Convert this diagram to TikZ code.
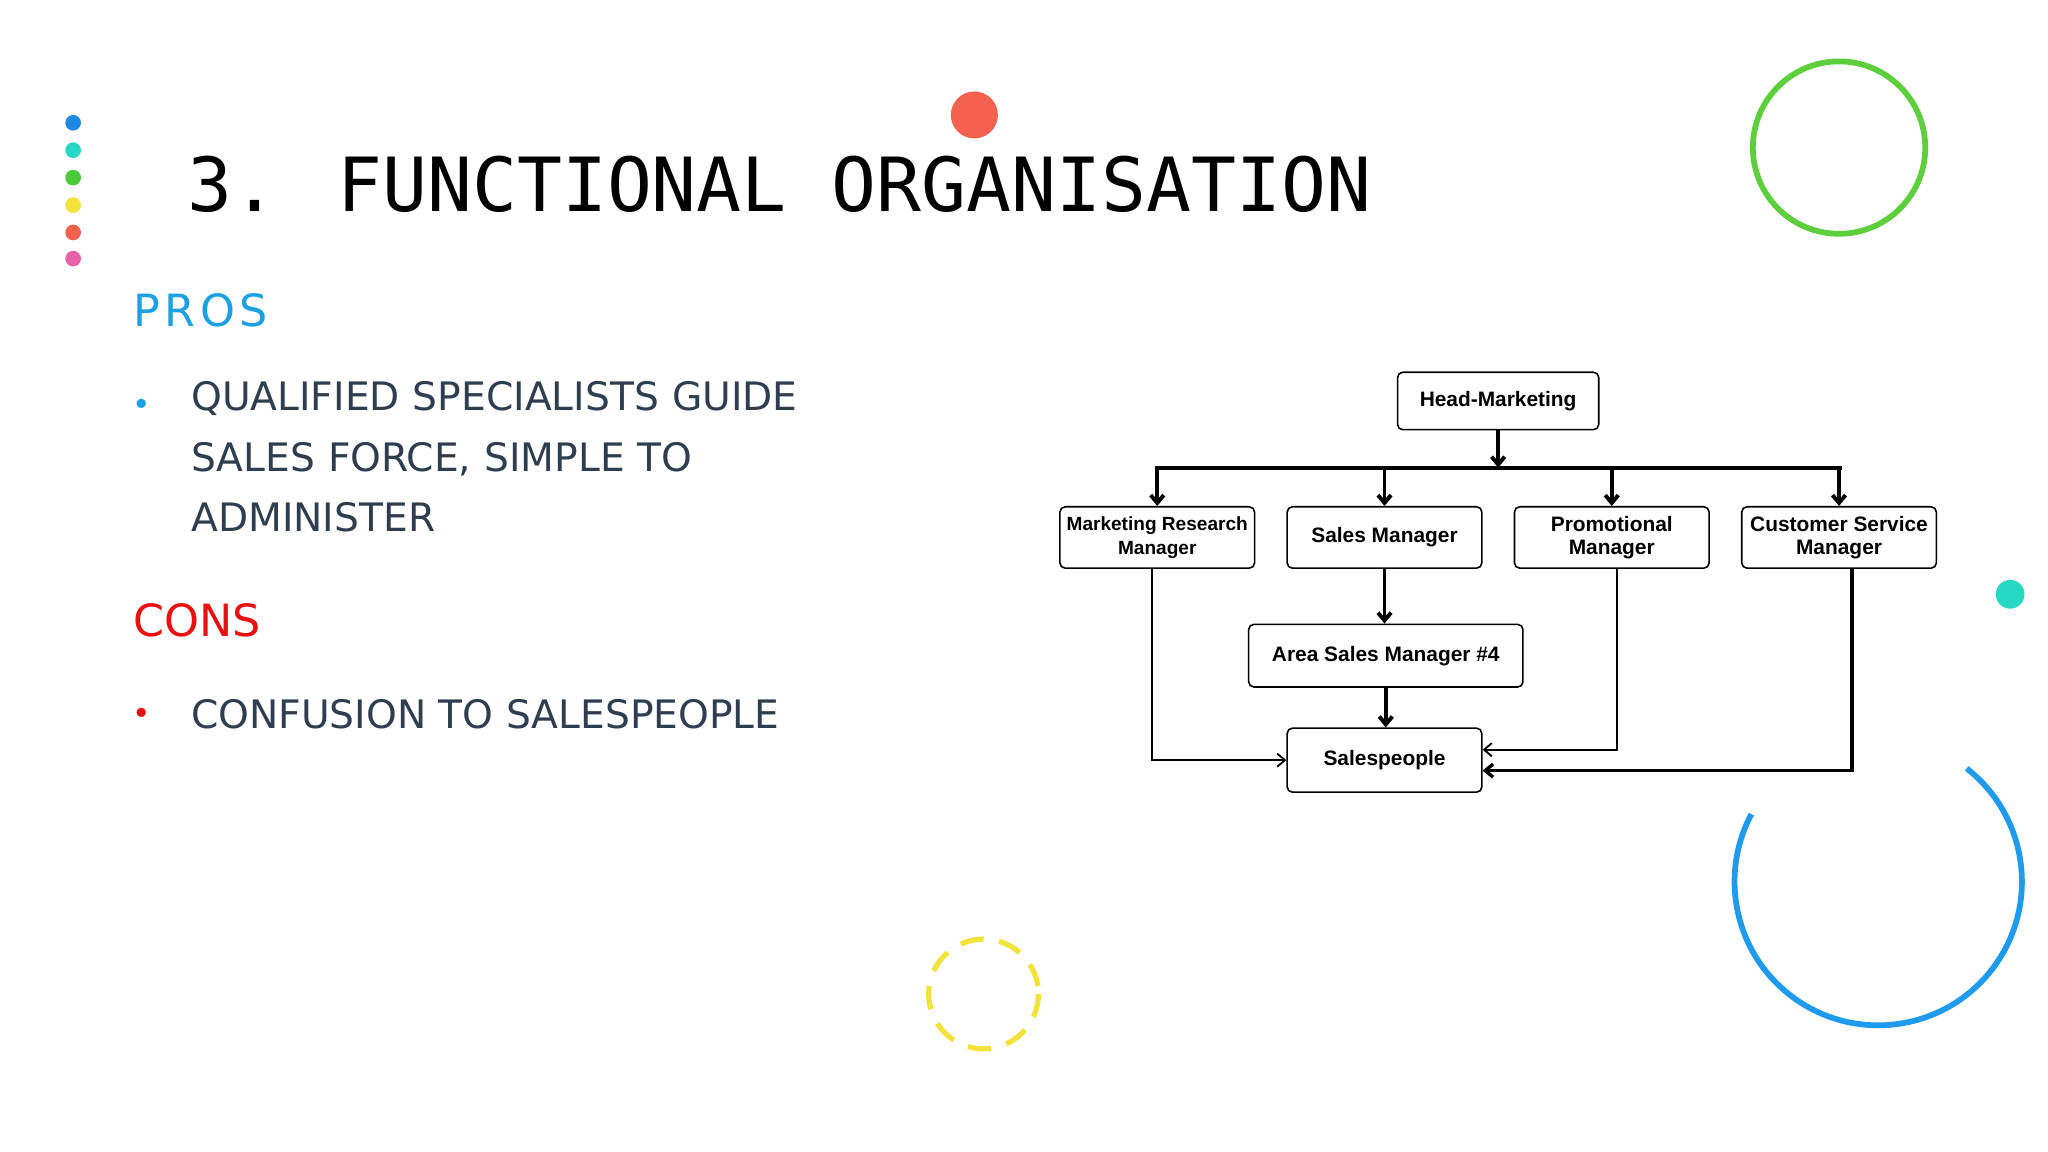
\documentclass[tikz,border=0pt]{standalone}
\usepackage{fontspec}
\setmainfont{DejaVu Sans}
\newfontfamily\monof{DejaVu Sans Mono}
\newfontfamily\arialf{Liberation Sans}
\usetikzlibrary{arrows.meta}
\definecolor{txt}{HTML}{2E3E50}
\definecolor{prosc}{HTML}{1BA1E2}
\definecolor{consc}{HTML}{E81010}
\definecolor{d1}{HTML}{1E88E5}
\definecolor{d2}{HTML}{26D7C4}
\definecolor{d3}{HTML}{4CCB3A}
\definecolor{d4}{HTML}{F2E23A}
\definecolor{d5}{HTML}{F4614F}
\definecolor{d6}{HTML}{E862A8}
\definecolor{greenc}{HTML}{5ECF3C}
\definecolor{bluec}{HTML}{1E9BEF}
\tikzset{
 box/.style={draw,rounded corners=2pt,line width=0.6pt,align=center,font=\arialf\bfseries\fontsize{8}{9}\selectfont,inner sep=0pt},
 thin/.style={line width=0.7pt,-{Straight Barb[length=3pt,width=5pt]}},
 thick/.style={line width=1.5pt,-{Straight Barb[length=3pt,width=5pt]}},
}
\begin{document}
\begin{tikzpicture}[x=0.5pt,y=-0.5pt]
\useasboundingbox (0,0) rectangle (1568,882);
\fill[white] (0,0) rectangle (1568,882);
% dots
\foreach \y/\c in {94/d1,115/d2,136/d3,157/d4,178/d5,198/d6}
  \fill[\c] (56,\y) circle (6);
\fill[d5] (746,88) circle (18);
\draw[line width=2.2pt,greenc] (1408,113) circle (66);
\fill[d2] (1539,455) circle (11);
\draw[line width=2.2pt,bluec] (1438,675) ++(-52:110) arc[start angle=-52,end angle=208,radius=110];
\draw[line width=2pt,d4,dash pattern=on 9pt off 6pt] (753,761) circle (42);
% title
\node[anchor=base west,inner sep=0pt,font=\monof\fontsize{28.6}{32}\selectfont] (title) at (143,162) {3. FUNCTIONAL ORGANISATION};
\node[anchor=base west,inner sep=0pt,text=prosc,font=\addfontfeature{LetterSpace=10}\fontsize{17}{20}\selectfont] (pros) at (102,250) {PROS};
\node[anchor=base west,inner sep=0pt,text=prosc] (b1) at (101,318) {\fontsize{12}{16}\selectfont•};
\node[anchor=north west,inner sep=0pt,text=txt,text width=265pt,align=left,font=\fontsize{15}{23}\selectfont] (t1) at (146,292) {\makebox[265pt][s]{QUALIFIED SPECIALISTS GUIDE}\\\makebox[265pt][s]{SALES FORCE, SIMPLE TO}\\ADMINISTER};
\node[anchor=base west,inner sep=0pt,text=consc,font=\fontsize{17}{20}\selectfont] (cons) at (102,487) {CONS};
\node[anchor=base west,inner sep=0pt,text=consc] (b2) at (101,555) {\fontsize{12}{16}\selectfont•};
\node[anchor=base west,inner sep=0pt,text=txt,font=\fontsize{15}{20}\selectfont] (t2) at (146,558) {CONFUSION TO SALESPEOPLE};
% diagram
\node[box,minimum width=77pt,minimum height=22pt] (head) at (1147,307) {Head-Marketing};
\node[box,minimum width=74.5pt,minimum height=23.5pt,font=\arialf\bfseries\fontsize{7.3}{9}\selectfont] (mrm) at (886,411.5) {Marketing Research\\Manager};
\node[box,minimum width=74.5pt,minimum height=23.5pt] (sm) at (1060,411.5) {Sales Manager};
\node[box,minimum width=74.5pt,minimum height=23.5pt] (pm) at (1234,411.5) {Promotional\\Manager};
\node[box,minimum width=74.5pt,minimum height=23.5pt] (csm) at (1408,411.5) {Customer Service\\Manager};
\node[box,minimum width=105pt,minimum height=24pt] (area) at (1061,502) {Area Sales Manager \#4};
\node[box,minimum width=74.5pt,minimum height=24.5pt] (sp) at (1060,582) {Salespeople};
\coordinate (busL) at (886,358);
\coordinate (busR) at (1410,358);
\draw[line width=1.5pt] (busL) -- (busR);
\draw[thick] (head.south) -- (head.south |- busL);
\foreach \n/\x in {mrm/886,sm/1060,pm/1234,csm/1408}
  \draw[thick] (\x,357) -- (\n.north);
\draw[thick] (sm.south) -- (sm.south |- area.north);
\draw[thick] (area.south) -- (area.south |- sp.north);
\draw[thin] (mrm.south -| 882,0) -- (882,582) -- (sp.west);
\draw[thin] (pm.south -| 1238,0) -- (1238,574) -- (sp.east |- 0,574);
\draw[thin,line width=1.3pt] (csm.south -| 1418,0) -- (1418,590) -- (sp.east |- 0,590);
\end{tikzpicture}
\end{document}
